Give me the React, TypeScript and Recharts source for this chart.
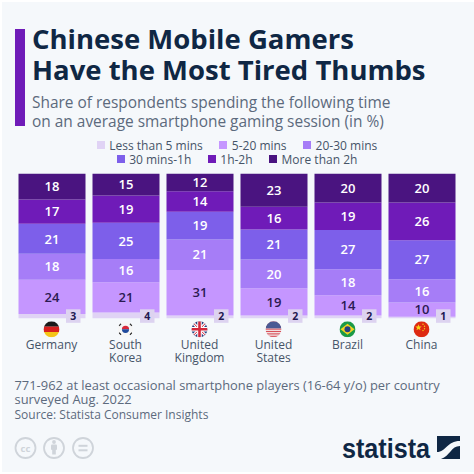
import React from "react";
import { BarChart, Bar, XAxis, YAxis, LabelList } from "recharts";

const countries = ["Germany", "South Korea", "United Kingdom", "United States", "Brazil", "China"];
const seriesNames = ["Less than 5 mins", "5-20 mins", "20-30 mins", "30 mins-1h", "1h-2h", "More than 2h"];
const seriesColors = ["#e0d3f5", "#c596ff", "#a67df7", "#7d5fea", "#6f1bb8", "#4a1480"];
const labelColors = ["#2b1a52", "#2b1a52", "#ffffff", "#ffffff", "#ffffff", "#ffffff"];
const lessThan5 = [3, 4, 2, 2, 2, 1];
const min5to20 = [24, 21, 31, 19, 14, 10];
const min20to30 = [18, 16, 21, 20, 18, 16];
const min30to1h = [21, 25, 19, 21, 27, 27];
const h1to2 = [17, 19, 14, 16, 19, 26];
const moreThan2h = [18, 15, 12, 23, 20, 20];
const seriesValues = [lessThan5, min5to20, min20to30, min30to1h, h1to2, moreThan2h];
const titleLines = ["Chinese Mobile Gamers", "Have the Most Tired Thumbs"];
const subtitleLines = ["Share of respondents spending the following time", "on an average smartphone gaming session (in %)"];
const footLines = ["771-962 at least occasional smartphone players (16-64 y/o) per country", "surveyed Aug. 2022"];
const sourceLine = "Source: Statista Consumer Insights";

const data = countries.map((name, i) => {
  const row: Record<string, string | number> = { name };
  seriesNames.forEach((s, j) => { row[s] = seriesValues[j][i]; });
  return row;
});

const FONT = "'Open Sans', sans-serif";

function Flag({ name, id }: { name: string; id: string }) {
  const r = 8;
  let body: React.ReactNode = null;
  if (name === "Germany") {
    body = (<>
      <rect x={-r} y={-r} width={16} height={5.4} fill="#1a1a1a" />
      <rect x={-r} y={-2.7} width={16} height={5.4} fill="#d8201f" />
      <rect x={-r} y={2.7} width={16} height={5.4} fill="#f5c518" />
    </>);
  } else if (name === "South Korea") {
    body = (<>
      <rect x={-r} y={-r} width={16} height={16} fill="#f6f6f6" />
      <path d="M-3.6 0a3.6 3.6 0 0 1 7.2 0z" fill="#d8283a" />
      <path d="M-3.6 0a3.6 3.6 0 0 0 7.2 0z" fill="#1f4a9c" />
      <g stroke="#333" strokeWidth={1.4}>
        <path d="M-6.5 -3.5L-4.5 -5.5M6.5 -3.5L4.5 -5.5M-6.5 3.5L-4.5 5.5M6.5 3.5L4.5 5.5" />
      </g>
    </>);
  } else if (name === "United Kingdom") {
    body = (<>
      <rect x={-r} y={-r} width={16} height={16} fill="#27407f" />
      <path d="M-8 -8L8 8M8 -8L-8 8" stroke="#fff" strokeWidth={3} />
      <path d="M-8 -8L8 8M8 -8L-8 8" stroke="#d3283c" strokeWidth={1} />
      <path d="M0 -8V8M-8 0H8" stroke="#fff" strokeWidth={4.5} />
      <path d="M0 -8V8M-8 0H8" stroke="#d3283c" strokeWidth={2.6} />
    </>);
  } else if (name === "United States") {
    body = (<>
      <rect x={-r} y={-r} width={16} height={16} fill="#f4f0f0" />
      {[-8, -5.6, -3.2, -0.8, 1.6, 4, 6.4].map((y) => (
        <rect key={y} x={-r} y={y} width={16} height={1.2} fill="#d8505a" />
      ))}
      <rect x={-r} y={-r} width={16} height={7} fill="#4a5a94" />
    </>);
  } else if (name === "Brazil") {
    body = (<>
      <rect x={-r} y={-r} width={16} height={16} fill="#1b9a47" />
      <path d="M-7 0L0 -5.5L7 0L0 5.5z" fill="#f4d21f" />
      <circle r={3} fill="#27407f" />
    </>);
  } else {
    body = (<>
      <rect x={-r} y={-r} width={16} height={16} fill="#de2a12" />
      <path d="M-3 -5l.9 2.2 2.3.1-1.8 1.4.6 2.3-2-1.3-2 1.3.6-2.3-1.8-1.4 2.3-.1z" fill="#f7d417" />
      <g fill="#f7d417">
        <circle cx={1.5} cy={-5} r={0.7} /><circle cx={3} cy={-3} r={0.7} />
        <circle cx={3} cy={-0.6} r={0.7} /><circle cx={1.5} cy={1.2} r={0.7} />
      </g>
    </>);
  }
  return (
    <g>
      <clipPath id={id}><circle r={r} /></clipPath>
      <g clipPath={`url(#${id})`}>{body}</g>
    </g>
  );
}

function CountryTick(props: any) {
  const { x, y, payload, index } = props;
  const lines = String(payload.value).split(" ");
  return (
    <g transform={`translate(${x},${y})`}>
      <g transform="translate(0,3)">
        <Flag name={payload.value} id={`flag-${index}`} />
      </g>
      <text textAnchor="middle" fontFamily={FONT} fontSize={12} fill="#465468">
        {lines.map((l, i) => (
          <tspan key={l} x={0} y={23 + i * 13}>{l}</tspan>
        ))}
      </text>
    </g>
  );
}

function SegmentLabel(color: string) {
  return (props: any) => {
    const { x, y, width, height, value } = props;
    return (
      <text x={x + width / 2} y={y + height / 2 + 4.7} textAnchor="middle" fontFamily={FONT}
        fontSize={13} fontWeight={600} fill={color}>
        {value}
      </text>
    );
  };
}

function BadgeLabel(props: any) {
  const { x, y, width, height, value } = props;
  const right = x + width - 5;
  const bottom = y + height + 4.5;
  return (
    <g>
      <rect x={right - 14.5} y={bottom - 13.5} width={14.5} height={13.5} fill="#ddd3f0" />
      <text x={right - 7.25} y={bottom - 2.8} textAnchor="middle" fontFamily={FONT} fontSize={10.5}
        fontWeight={700} fill="#241a50">
        {value}
      </text>
    </g>
  );
}

function LegendRow({ names, offset, top }: { names: string[]; offset: number; top: number }) {
  return (
    <div style={{ position: "absolute", left: 0, top, width: 474, display: "flex", justifyContent: "center", gap: 16.5, alignItems: "center", height: 14 }}>
      {names.map((n, i) => (
        <div key={n} style={{ display: "flex", alignItems: "center", gap: 4.5 }}>
          <div style={{ width: 8, height: 8, background: seriesColors[offset + i] }} />
          <span style={{ fontFamily: FONT, fontSize: 12, color: "#465468", whiteSpace: "nowrap" }}>{n}</span>
        </div>
      ))}
    </div>
  );
}

export default function App() {
  return (
    <div style={{ position: "absolute", left: 0, top: 0, width: 474, height: 474, background: "#ffffff", overflow: "hidden" }}>
      <div style={{ position: "absolute", left: 2, top: 2, width: 472, height: 470, background: "#f5f8fb" }} />
      <div style={{ position: "absolute", left: 14.5, top: 29, width: 10.5, height: 96.5, background: "#6f1bb8" }} />
      {titleLines.map((t, i) => (
        <div key={t} style={{ position: "absolute", left: 32, top: 20 + i * 31, fontFamily: FONT, fontWeight: 700, fontSize: 27.5, lineHeight: "37px", color: "#0f2744", whiteSpace: "nowrap" }}>{t}</div>
      ))}
      {subtitleLines.map((t, i) => (
        <div key={t} style={{ position: "absolute", left: 32, top: 91 + i * 19, fontFamily: FONT, fontSize: 15.45, lineHeight: "22px", color: "#5c6a7d", whiteSpace: "nowrap" }}>{t}</div>
      ))}
      <LegendRow names={seriesNames.slice(0, 3)} offset={0} top={138} />
      <LegendRow names={seriesNames.slice(3)} offset={3} top={152} />
      <div style={{ position: "absolute", left: 0, top: 0 }}>
        <BarChart width={474} height={474} data={data} stackOffset="expand"
          margin={{ top: 173.7, right: 15.5, bottom: 95.7, left: 14.5 }}>
          <XAxis dataKey="name" axisLine={false} tickLine={false} interval={0} height={60} tick={<CountryTick />} />
          <YAxis hide domain={[0, 1]} />
          {seriesNames.map((s, j) => (
            <Bar key={s} dataKey={s} stackId="a" fill={seriesColors[j]} barSize={67} isAnimationActive={false}>
              <LabelList dataKey={s} content={j === 0 ? BadgeLabel : SegmentLabel(labelColors[j])} />
            </Bar>
          ))}
        </BarChart>
      </div>
      {footLines.map((t, i) => (
        <div key={t} style={{ position: "absolute", left: 14.5, top: 376.5 + i * 14.3, fontFamily: FONT, fontSize: 12.9, lineHeight: "16px", color: "#5c6a7d", whiteSpace: "nowrap" }}>{t}</div>
      ))}
      <div style={{ position: "absolute", left: 14.5, top: 407, fontFamily: FONT, fontSize: 12, lineHeight: "16px", color: "#5c6a7d", whiteSpace: "nowrap" }}>{sourceLine}</div>
      <svg width={474} height={474} style={{ position: "absolute", left: 0, top: 0, pointerEvents: "none" }}>
        <g fill="none" stroke="#cfd4da" strokeWidth={1.8}>
          <circle cx={25.5} cy={448} r={10} />
          <circle cx={54} cy={448} r={10} />
          <circle cx={83} cy={448} r={10} />
        </g>
        <text x={25.5} y={451.5} textAnchor="middle" fontFamily={FONT} fontWeight={700} fontSize={9.5} fill="#cfd4da">cc</text>
        <g fill="#cfd4da">
          <circle cx={54} cy={442} r={1.9} />
          <rect x={51} y={444.5} width={6} height={5.5} rx={1} />
          <rect x={52.2} y={449} width={3.6} height={5.5} />
          <rect x={78.5} y={444.8} width={9} height={2} />
          <rect x={78.5} y={449.3} width={9} height={2} />
        </g>
        <text x={342} y={458} fontFamily="'Liberation Sans Narrow', 'Liberation Sans', sans-serif" fontWeight={700} fontSize={27}
          fill="#0f2744" textLength={88} lengthAdjust="spacingAndGlyphs">statista</text>
        <rect x={437} y={436} width={23} height={23} fill="#0f2744" />
        <path d="M437 452C446 452 447 441 460 441V446C451 446 450 456 441 459H437Z" fill="#f5f8fb" />
      </svg>
    </div>
  );
}
